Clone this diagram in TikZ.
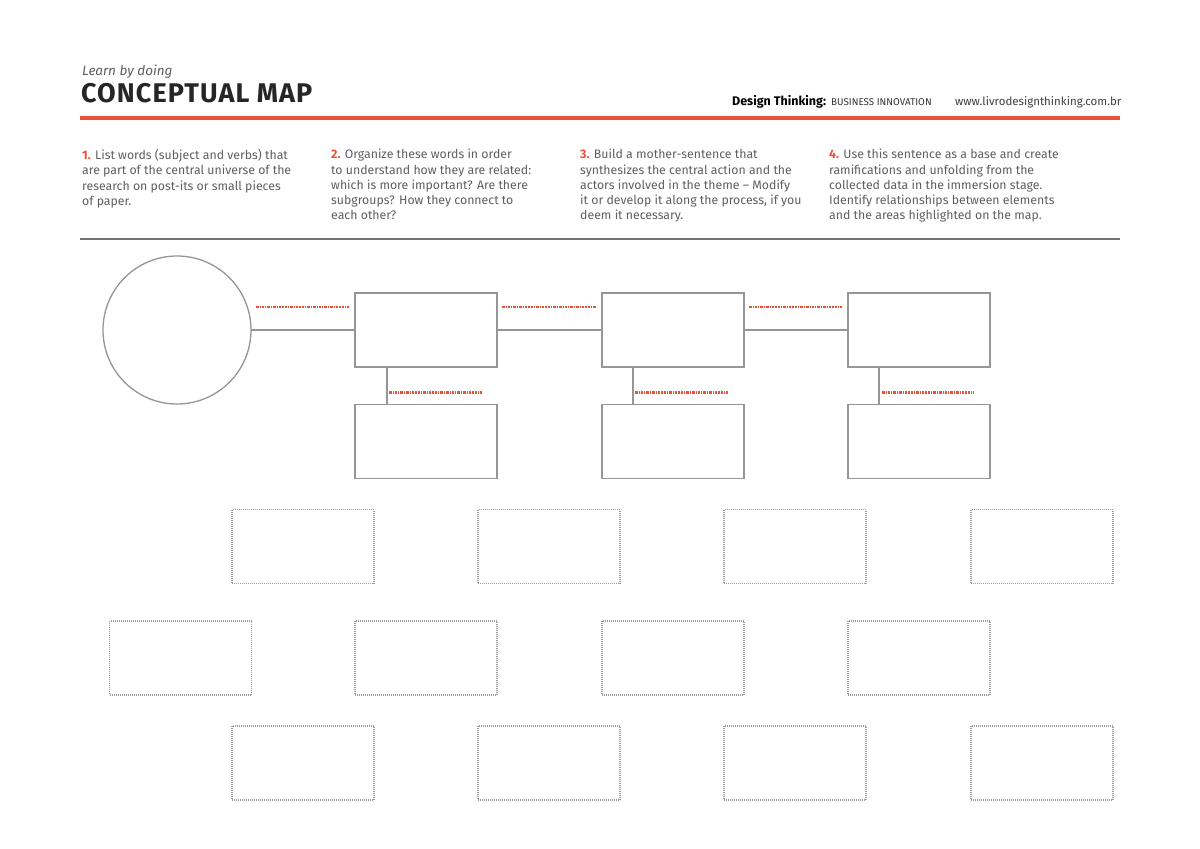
\documentclass[tikz,border=0pt]{standalone}
\usepackage{fontspec}
\setmainfont{Fira Sans}
\usetikzlibrary{positioning}
\definecolor{accent}{RGB}{236,80,56}
\definecolor{txt}{RGB}{95,95,95}
\definecolor{boxline}{RGB}{150,150,150}
\definecolor{dotline}{RGB}{155,155,155}
\begin{document}
\begin{tikzpicture}[x=1pt,y=-1pt,
  solidbox/.style={draw=boxline,line width=1.4pt,minimum width=142pt,minimum height=74pt,inner sep=0pt,outer sep=0pt},
  dotbox/.style={draw=dotline,line width=1.5pt,dash pattern=on 1pt off 1pt,minimum width=142pt,minimum height=74pt,inner sep=0pt,outer sep=0pt},
  conn/.style={draw=boxline,line width=1.3pt},
  reddash/.style={draw=accent,line width=2.2pt,dash pattern=on 2.5pt off 1pt on 1.2pt off 1pt},
  coltext/.style={anchor=north west,align=left,inner sep=0pt,text=txt,font=\fontsize{12.3}{15.3}\selectfont}]
\useasboundingbox (0,0) rectangle (1200,849);
\fill[white] (0,0) rectangle (1200,849);

% header
\node[anchor=base west,inner sep=0pt,text=txt,font=\fontsize{13.5}{15}\selectfont\itshape] (learn) at (82,75) {Learn by doing};
\node[anchor=base west,inner sep=0pt,text=black!85,font=\fontsize{27}{30}\selectfont\bfseries] (title) at (81,102) {\addfontfeature{LetterSpace=4}CONCEPTUAL MAP};
\node[anchor=base west,inner sep=0pt,font=\fontsize{12.5}{14}\selectfont\bfseries] (dt) at (732,105) {Design Thinking:};
\node[anchor=base west,inner sep=0pt,text=black!80,font=\fontsize{9.8}{11}\selectfont] (bi) at (831,105) {BUSINESS INNOVATION};
\node[anchor=base west,inner sep=0pt,text=black!75,font=\fontsize{11.5}{13}\selectfont] (url) at (955,105) {www.livrodesignthinking.com.br};
\draw[accent,line width=4pt] (80,118) -- (1120,118);

% columns
\node[coltext] (t1) at (82,149) {\textcolor{accent}{\bfseries 1.} List words (subject and verbs) that\\are part of the central universe of the\\research on post-its or small pieces\\of paper.};
\node[coltext] (t2) at (331,149) {\textcolor{accent}{\bfseries 2.} Organize these words in order\\to understand how they are related:\\which is more important? Are there\\subgroups? How they connect to\\each other?};
\node[coltext] (t3) at (580,149) {\textcolor{accent}{\bfseries 3.} Build a mother-sentence that\\synthesizes the central action and the\\actors involved in the theme -- Modify\\it or develop it along the process, if you\\deem it necessary.};
\node[coltext] (t4) at (829,149) {\textcolor{accent}{\bfseries 4.} Use this sentence as a base and create\\ramifications and unfolding from the\\collected data in the immersion stage.\\Identify relationships between elements\\and the areas highlighted on the map.};
\draw[black!55,line width=2pt] (80,239) -- (1120,239);

% main map
\node[circle,draw=boxline,line width=1.3pt,minimum size=148pt,inner sep=0pt,outer sep=0pt] (circ) at (177,330) {};
\node[solidbox] (b1) at (426,330) {};
\node[solidbox] (b2) at (673,330) {};
\node[solidbox] (b3) at (919,330) {};
\node[solidbox] (c1) at (426,441.5) {};
\node[solidbox] (c2) at (673,441.5) {};
\node[solidbox] (c3) at (919,441.5) {};

\draw[conn] (circ.east) -- (b1.west);
\draw[conn] (b1.east) -- (b2.west);
\draw[conn] (b2.east) -- (b3.west);
\draw[conn] ([xshift=32pt]b1.south west) -- ([xshift=32pt]c1.north west);
\draw[conn] ([xshift=31pt]b2.south west) -- ([xshift=31pt]c2.north west);
\draw[conn] ([xshift=31pt]b3.south west) -- ([xshift=31pt]c3.north west);

\draw[reddash] ([shift={(5,-23)}]circ.east) -- ([shift={(-6,-23)}]b1.west);
\draw[reddash] ([shift={(5,-23)}]b1.east) -- ([shift={(-6,-23)}]b2.west);
\draw[reddash] ([shift={(5,-23)}]b2.east) -- ([shift={(-6,-23)}]b3.west);
\draw[reddash] ([shift={(34,-12)}]c1.north west) -- ([shift={(127,-12)}]c1.north west);
\draw[reddash] ([shift={(33,-12)}]c2.north west) -- ([shift={(126,-12)}]c2.north west);
\draw[reddash] ([shift={(34,-12)}]c3.north west) -- ([shift={(126,-12)}]c3.north west);

% dotted boxes
\node[dotbox] (d1) at (303,546.5) {};
\node[dotbox] (d2) at (549,546.5) {};
\node[dotbox] (d3) at (795,546.5) {};
\node[dotbox] (d4) at (1042,546.5) {};
\node[dotbox] (e1) at (180.5,658) {};
\node[dotbox] (e2) at (426,658) {};
\node[dotbox] (e3) at (673,658) {};
\node[dotbox] (e4) at (919,658) {};
\node[dotbox] (f1) at (303,763) {};
\node[dotbox] (f2) at (549,763) {};
\node[dotbox] (f3) at (795,763) {};
\node[dotbox] (f4) at (1042,763) {};
\end{tikzpicture}
\end{document}
